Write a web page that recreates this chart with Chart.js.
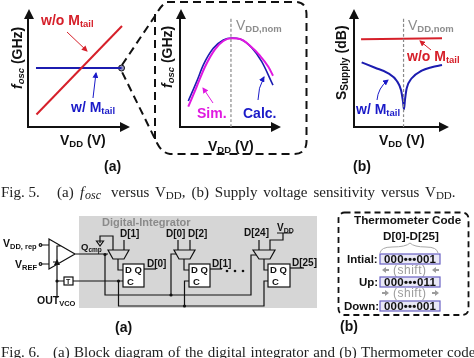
<!DOCTYPE html>
<html>
<head>
<meta charset="utf-8">
<script src="https://cdn.jsdelivr.net/npm/chart.js@4"></script>
<style>
html, body { margin: 0; padding: 0; background: #fff; }
#page { position: relative; width: 474px; height: 358px; overflow: hidden; }
canvas { position: absolute; }
svg { position: absolute; left: 0; top: 0; }
text { font-family: "Liberation Sans", Arial, sans-serif; font-weight: bold; font-size: 14px; fill: #111; }
.cap { font-family: "Liberation Serif", serif; font-weight: normal; font-size: 15px; fill: #222; }
.sm { font-size: 10px; }
.red { fill: #d6202a; }
.blue { fill: #1a1ac8; }
.mag { fill: #e018e0; }
.gray { fill: #8c8c8c; font-weight: normal; }
.w { fill: none; stroke: #111; stroke-width: 1.2; }
.dash { fill: none; stroke: #111; stroke-width: 2; stroke-dasharray: 8 5; }
.dot { fill: #111; }
.code { fill: #e9e8f6; stroke: #6a62c4; stroke-width: 1.2; }
.shift { font-size: 12px; fill: #9c9c9c; font-weight: normal; }
.row { font-size: 11.5px; }
</style>
</head>
<body>
<div id="page">
<canvas id="chartA" style="left:20px;top:5px"></canvas>
<canvas id="chartZoom" style="left:170px;top:5px"></canvas>
<canvas id="chartB" style="left:344px;top:5px"></canvas>

<svg width="474" height="358" viewBox="0 0 474 358">
  <defs>
    <marker id="hR" markerWidth="6" markerHeight="6" refX="5" refY="3" orient="auto"><path d="M0 0L6 3L0 6z" fill="#d6202a"/></marker>
    <marker id="hB" markerWidth="6" markerHeight="6" refX="5" refY="3" orient="auto"><path d="M0 0L6 3L0 6z" fill="#1a1ac8"/></marker>
    <marker id="hM" markerWidth="6" markerHeight="6" refX="5" refY="3" orient="auto"><path d="M0 0L6 3L0 6z" fill="#e018e0"/></marker>
  </defs>

  <!-- axis arrow heads -->
  <path class="dot" d="M29 9L24 19H34z M130 127L120 122V132z M181 9L176 19H186z M281 127L271 122V132z M354 9L349 19H359z M449 127L439 122V132z"/>

  <!-- zoom box -->
  <path class="dash" d="M122 65L157 13Q160 7 166 2H296Q306 2 306.5 14V142Q306 154 294 154H170Q162 153 157 143L122 72"/>
  <path class="dash" d="M155 14V142"/>

  <!-- panel text -->
  <text class="red" x="41" y="25">w/o M<tspan font-size="9.5" dy="2">tail</tspan></text>
  <path d="M67 32L87 51" stroke="#d6202a" fill="none" marker-end="url(#hR)"/>
  <text class="blue" x="71" y="112">w/ M<tspan font-size="9.5" dy="2">tail</tspan></text>
  <path d="M93 98L96 73" stroke="#1a1ac8" fill="none" marker-end="url(#hB)"/>
  <text transform="translate(22 89) rotate(-90)"><tspan font-style="italic">f</tspan><tspan font-size="9.5" font-style="italic" dy="2">osc</tspan><tspan dy="-2"> (GHz)</tspan></text>
  <text x="60" y="145">V<tspan font-size="9.5" dy="2">DD</tspan><tspan dy="-2"> (V)</tspan></text>
  <text x="104" y="171">(a)</text>

  <text transform="translate(172 88) rotate(-90)"><tspan font-style="italic">f</tspan><tspan font-size="9.5" font-style="italic" dy="2">osc</tspan><tspan dy="-2"> (GHz)</tspan></text>
  <text x="208" y="151">V<tspan font-size="9.5" dy="2">DD</tspan><tspan dy="-2"> (V)</tspan></text>
  <text class="gray" x="236" y="30">V<tspan font-size="9.5" dy="2" font-weight="bold">DD,nom</tspan></text>
  <text class="mag" x="197" y="118">Sim.</text>
  <path d="M213 103L203 88" stroke="#e018e0" fill="none" marker-end="url(#hM)"/>
  <text class="blue" x="243" y="118">Calc.</text>
  <path d="M258 100Q258 88 264 77" stroke="#1a1ac8" fill="none" marker-end="url(#hB)"/>

  <text transform="translate(346 100) rotate(-90)">S<tspan font-size="10" dy="2">Supply</tspan><tspan dy="-2"> (dB)</tspan></text>
  <text class="gray" x="408" y="30">V<tspan font-size="9.5" dy="2" font-weight="bold">DD,nom</tspan></text>
  <text class="red" x="407" y="61">w/o M<tspan font-size="9.5" dy="2">tail</tspan></text>
  <path d="M431 50L420 41" stroke="#d6202a" fill="none" marker-end="url(#hR)"/>
  <text class="blue" x="356" y="114">w/ M<tspan font-size="9.5" dy="2">tail</tspan></text>
  <path d="M377 100Q378 88 388 80" stroke="#1a1ac8" fill="none" marker-end="url(#hB)"/>
  <text x="379" y="145">V<tspan font-size="9.5" dy="2">DD</tspan><tspan dy="-2"> (V)</tspan></text>
  <text x="353" y="171">(b)</text>

  <!-- captions -->
  <text class="cap" x="1" y="197">Fig. 5.</text>
  <text class="cap" x="57" y="197">(a)</text>
  <text class="cap" x="80" y="197" font-style="italic">f</text>
  <text class="cap" x="85" y="199" font-style="italic" style="font-size:12px">osc</text>
  <text class="cap" x="111" y="197" word-spacing="2.2">versus V<tspan font-size="11" dy="2">DD</tspan><tspan dy="-2">, (b) Supply voltage sensitivity versus V</tspan><tspan font-size="11" dy="2">DD</tspan><tspan dy="-2">.</tspan></text>
  <text class="cap" x="1" y="357">Fig. 6.</text>
  <text class="cap" x="53" y="357" word-spacing="0.7">(a) Block diagram of the digital integrator and (b) Thermometer code</text>

  <!-- digital integrator block -->
  <rect x="79" y="216" width="238" height="92" fill="#d6d6d6"/>
  <text x="102" y="226" style="font-size:11px;fill:#8a8a8a">Digital-Integrator</text>

  <text class="sm" x="3" y="247" style="font-size:10.5px">V<tspan font-size="7.5" dy="1.5">DD, rep</tspan></text>
  <text class="sm" x="15" y="268" style="font-size:10.5px">V<tspan font-size="7.5" dy="1.5">REF</tspan></text>
  <circle class="w" cx="40.5" cy="245" r="1.3" /><circle class="w" cx="40.5" cy="264" r="1.3"/>
  <path class="w" d="M42 245H49 M42 264H49 M49 239L75 254L49 269z M53 262H57V246H61 M75 254H108"/>
  <text class="sm" x="81" y="250" style="font-size:9.5px">Q<tspan font-size="6.5" dy="1.5">cmp</tspan></text>
  <path class="w" d="M57 298V262 M57 281H64"/>
  <path class="dot" d="M57 259L54 265H60z"/>
  <circle class="dot" cx="57" cy="281" r="1.6"/>
  <rect class="w" x="64" y="277" width="9" height="8" style="fill:#fff"/>
  <text x="66" y="284" style="font-size:7px">T</text>
  <text class="sm" x="37" y="304" style="font-size:10.5px">OUT<tspan font-size="7.5" dy="1.5">VCO</tspan></text>

  <!-- stage 1 -->
  <path class="w" d="M100 243V236H113V250 M124 240V250 M118 259V270H123 M73 281H123"/>
  <path class="w" d="M96.5 241H103.5L100 246z"/>
  <path class="w" d="M108 250H129L124 259H113z" style="fill:#d6d6d6"/>
  <text class="sm" x="120" y="237">D[1]</text>
  <rect class="w" x="123" y="264" width="21" height="23" style="fill:#fff"/>
  <text class="sm" x="125" y="273" style="font-size:9.5px">D Q</text>
  <text class="sm" x="127" y="285" style="font-size:9.5px">C</text>
  <path class="w" d="M144 269H156"/>
  <text class="sm" x="147" y="267">D[0]</text>
  <path class="w" d="M105 254V295H251V255H257 M118.5 281V306H264V281H268"/>
  <circle class="dot" cx="105" cy="254.5" r="1.6"/><circle class="dot" cx="118.5" cy="281" r="1.6"/>

  <!-- stage 2 -->
  <path class="w" d="M178 240V250 M190 240V250 M184 259V270H189 M171 295V254H176 M184.5 306V281H189"/>
  <path class="w" d="M174 250H195L190 259H179z" style="fill:#d6d6d6"/>
  <text class="sm" x="166" y="237">D[0]</text>
  <text class="sm" x="188" y="237">D[2]</text>
  <rect class="w" x="189" y="264" width="21" height="23" style="fill:#fff"/>
  <text class="sm" x="191" y="273" style="font-size:9.5px">D Q</text>
  <text class="sm" x="193" y="285" style="font-size:9.5px">C</text>
  <path class="w" d="M210 269H222"/>
  <text class="sm" x="212" y="267">D[1]</text>
  <circle class="dot" cx="171" cy="295" r="1.6"/><circle class="dot" cx="184.5" cy="306" r="1.6"/>
  <circle class="dot" cx="227" cy="271" r="1.3"/><circle class="dot" cx="235" cy="271" r="1.3"/><circle class="dot" cx="243" cy="271" r="1.3"/>

  <!-- last stage -->
  <path class="w" d="M259 240V250 M270 250V240H283V233 M277 233H292 M264 259V270H268"/>
  <path class="w" d="M253 250H275L270 259H259z" style="fill:#d6d6d6"/>
  <text class="sm" x="244" y="236">D[24]</text>
  <text class="sm" x="277" y="231">V<tspan font-size="7" dy="1.5">DD</tspan></text>
  <rect class="w" x="268" y="264" width="22" height="23" style="fill:#fff"/>
  <text class="sm" x="270" y="273" style="font-size:9.5px">D Q</text>
  <text class="sm" x="272" y="285" style="font-size:9.5px">C</text>
  <path class="w" d="M290 268H304"/>
  <text class="sm" x="292" y="266">D[25]</text>
  <text x="115" y="332">(a)</text>

  <!-- thermometer code -->
  <rect x="338.5" y="212.500" width="130" height="102.500" rx="6" fill="none" stroke="#111" stroke-width="1.8" stroke-dasharray="6 4"/>
  <text x="354" y="224" style="font-size:11.7px">Thermometer Code</text>
  <text x="383" y="240" style="font-size:11.7px">D[0]-D[25]</text>
  <path d="M380 253Q381 247 392 247Q406 247 410 243Q414 247 426 247Q437 247 438 253" fill="none" stroke="#a8a8a8"/>

  <text class="row" x="347" y="263">Intial:</text>
  <rect class="code" x="380" y="254" width="60" height="10"/>
  <text class="row" x="384" y="263" textLength="52">000•••001</text>
  <path d="M382 270L386 267V269H389V271H386V273z M432 270L436 267V269H439V271H436V273z" fill="#9c9c9c"/>
  <text class="shift" x="393" y="274" textLength="33">(shift)</text>
  <text class="row" x="359" y="286">Up:</text>
  <rect class="code" x="380" y="277" width="60" height="10"/>
  <text class="row" x="384" y="286" textLength="52">000•••011</text>
  <path d="M389 293L385 290V292H382V294H385V296z M439 293L435 290V292H432V294H435V296z" fill="#9c9c9c"/>
  <text class="shift" x="393" y="297" textLength="33">(shift)</text>
  <text class="row" x="344" y="310">Down:</text>
  <rect class="code" x="380" y="301" width="60" height="10"/>
  <text class="row" x="384" y="310" textLength="52">000•••001</text>
  <text x="340" y="331">(b)</text>
</svg>
</div>

<script>
const noTailX = [9, 100];
const noTailY = [11.4, 91.8];
const tailX = [8.5, 99.5];
const tailY = [53.6, 53.6];
const markerX = [99.5];
const markerY = [53.6];

const simX = [8.9, 17.9, 26.9, 37.6, 46.6, 55.6, 64.5, 75.3, 86, 95, 100];
const simY = [18.5, 36.6, 54.8, 70.6, 78.2, 80.6, 80, 73.9, 64.8, 54.8, 46.6];
const calcX = [8.9, 17.9, 25.1, 35.8, 46.6, 55.6, 64.5, 77.1, 87.9, 100];
const calcY = [23.6, 41.2, 56.4, 71.5, 79.1, 80.9, 80, 72.1, 59.4, 38];
const nomZoomX = [54.8, 54.8];

const sensFlatX = [8, 100];
const sensFlatY = [79.7, 80.6];
const sensX = [8.7, 23.9, 39, 48.5, 53.4, 55.7, 56.8, 57.9, 59.9, 65.6, 77, 88.3, 100];
const sensY = [58.8, 53.9, 48.8, 42.1, 33.6, 23, 16.1, 24.5, 35.2, 44.3, 51.2, 54.3, 56.4];
const nomBX = [56.3, 56.3];
const nomY = [0, 100];

const RED = '#d6202a', NAVY = '#1c1cb0', MAGENTA = '#e018e0';

function points(xs, ys) {
    return xs.map((x, i) => ({ x: x, y: ys[i] }));
}

function line(xs, ys, color, width) {
    return {
        data: points(xs, ys),
        borderColor: color,
        borderWidth: width || 2,
        pointRadius: 0,
        cubicInterpolationMode: 'monotone',
        clip: false
    };
}

function nomLine(xs) {
    const ds = line(xs, nomY, '#8a8a8a', 1.2);
    ds.borderDash = [3, 2];
    return ds;
}

function axis() {
    return {
        type: 'linear',
        min: 0,
        max: 100,
        ticks: { display: false },
        grid: { display: false, drawTicks: false },
        border: { display: true, color: '#111', width: 2 }
    };
}

function makeChart(id, width, height, padding, datasets) {
    const canvas = document.getElementById(id);
    canvas.width = width;
    canvas.height = height;
    canvas.style.width = width + 'px';
    canvas.style.height = height + 'px';
    return new Chart(canvas.getContext('2d'), {
        type: 'line',
        data: { datasets: datasets },
        options: {
            responsive: false,
            animation: false,
            layout: { padding: padding },
            plugins: { legend: { display: false }, tooltip: { enabled: false } },
            scales: { x: axis(), y: axis() }
        }
    });
}

const marker = {
    data: points(markerX, markerY),
    showLine: false,
    pointRadius: 3,
    pointBackgroundColor: '#8d8dc0',
    pointBorderColor: '#111',
    pointBorderWidth: 1,
    clip: false
};

makeChart('chartA', 110, 130, { left: 8, top: 12, right: 8, bottom: 8 }, [
    line(noTailX, noTailY, RED),
    line(tailX, tailY, NAVY),
    marker
]);

makeChart('chartZoom', 113, 130, { left: 10, top: 12, right: 10, bottom: 8 }, [
    nomLine(nomZoomX),
    line(simX, simY, MAGENTA, 2),
    line(calcX, calcY, NAVY, 1.6)
]);

makeChart('chartB', 108, 130, { left: 10, top: 12, right: 10, bottom: 8 }, [
    nomLine(nomBX),
    line(sensFlatX, sensFlatY, RED),
    line(sensX, sensY, NAVY)
]);
</script>
</body>
</html>
